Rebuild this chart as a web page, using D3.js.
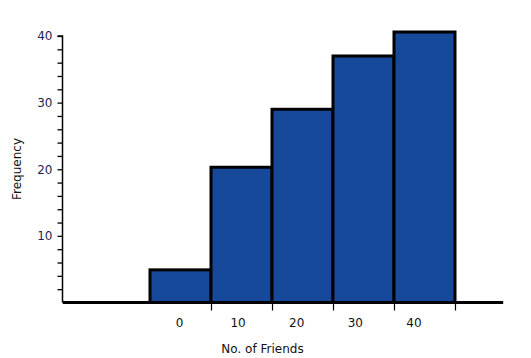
<!DOCTYPE html>
<html><head><meta charset="utf-8">
<script src="https://cdn.jsdelivr.net/npm/d3@7"></script>
<style>body{margin:0;background:#fff}svg{display:block}text{font-family:"DejaVu Sans",Verdana,sans-serif}</style>
</head><body>
<svg id="c" width="531" height="358"></svg>
<script>
const binStarts = [0, 10, 20, 30, 40];
const frequencies = [4.9, 20.3, 29, 37, 40.6];
const xLabels = ["0", "10", "20", "30", "40"];
const yTicks = [10, 20, 30, 40];
const binWidth = 10;

const svg = d3.select("#c");
const x = d3.scaleLinear().domain([0, 50]).range([150, 455]);
const y = d3.scaleLinear().domain([0, 40]).range([302.5, 36]);
const xl = d3.scalePoint().domain(xLabels).range([179.5, 414]);

const bins = binStarts.map((s, i) => ({x0: s, x1: s + binWidth, v: frequencies[i]}));

svg.append("g").selectAll("rect").data(bins).join("rect")
  .attr("x", d => x(d.x0)).attr("width", d => x(d.x1) - x(d.x0))
  .attr("y", d => y(d.v)).attr("height", d => y(0) - y(d.v))
  .attr("fill", "#17499b").attr("stroke", "#000").attr("stroke-width", 3);

// y axis
const ya = d3.axisLeft(y).tickValues(d3.range(2, 41, 2)).tickSize(5)
  .tickFormat(d => yTicks.includes(d) ? d : "");
const gy = svg.append("g").attr("transform", "translate(62.5,0)").call(ya);
gy.select(".domain").attr("stroke", "#000").attr("stroke-width", 1.5).attr("d", `M-5,${y(40)}H0V${y(0)}`);
gy.selectAll(".tick line").attr("stroke", "#000").attr("stroke-width", 1.3);
gy.selectAll(".tick text").attr("fill", "#1b2550").attr("font-size", 12).attr("x", -10)
  .style("font-family", '"DejaVu Sans",Verdana,sans-serif');

// x baseline and ticks
const xa = d3.axisBottom(x).tickValues([10, 20, 30, 40, 50]).tickSize(8).tickFormat("");
const gx = svg.append("g").attr("transform", `translate(0,${y(0)})`).call(xa);
gx.select(".domain").attr("stroke", "#000").attr("stroke-width", 3).attr("d", `M${x(-14.3)},0H${x(57.9)}`);
gx.selectAll(".tick line").attr("stroke", "#000").attr("stroke-width", 1.2);

svg.append("g").selectAll("text").data(xLabels).join("text")
  .attr("x", d => xl(d)).attr("y", 327).attr("text-anchor", "middle")
  .attr("font-size", 12).attr("fill", "#111").text(d => d);

svg.append("text").attr("x", 262.5).attr("y", 353).attr("text-anchor", "middle")
  .attr("font-size", 12).attr("fill", "#111").text("No. of Friends");

svg.append("text").attr("transform", "translate(21,169) rotate(-90)").attr("text-anchor", "middle")
  .attr("font-size", 12).attr("fill", "#111").text("Frequency");
</script>
</body></html>
